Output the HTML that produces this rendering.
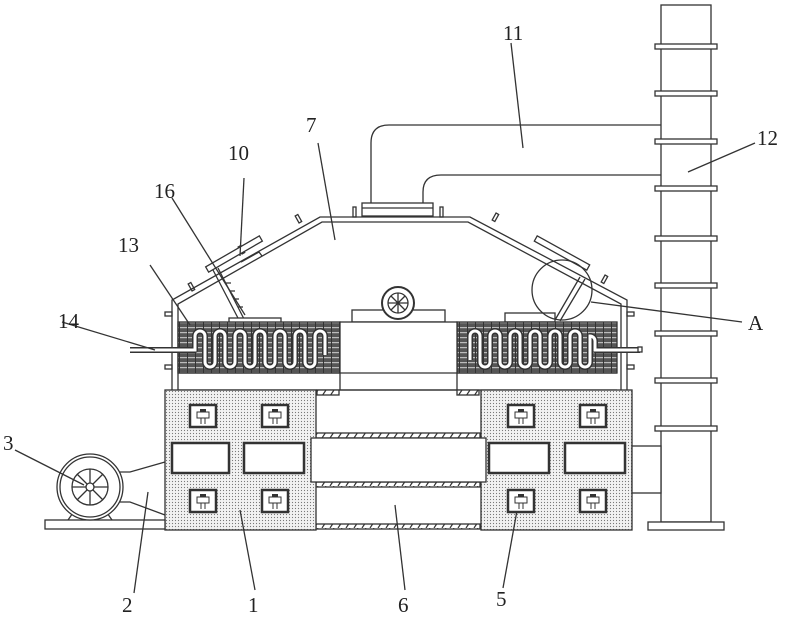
<!DOCTYPE html>
<html><head><meta charset="utf-8"><style>
html,body{margin:0;padding:0;background:#fff;width:800px;height:620px;overflow:hidden}
svg{display:block}
text{font-family:"Liberation Serif",serif;font-size:21px;fill:#222}
</style></head><body>
<svg width="800" height="620" viewBox="0 0 800 620" xmlns="http://www.w3.org/2000/svg">
<defs>
<pattern id="dots" width="3" height="3" patternUnits="userSpaceOnUse"><rect width="3" height="3" fill="#f2f2f2"/><circle cx="1.5" cy="1.5" r="0.6" fill="#777"/></pattern>
<pattern id="mesh" width="8" height="5" patternUnits="userSpaceOnUse"><rect width="8" height="5" fill="#555"/><rect x="0" y="2" width="8" height="1.2" fill="#bbb"/><rect x="3" y="0" width="1" height="5" fill="#333"/></pattern>
<pattern id="hatch" width="8" height="6" patternUnits="userSpaceOnUse"><rect width="8" height="6" fill="#fff"/><line x1="2" y1="6" x2="6" y2="0" stroke="#333" stroke-width="1.2"/></pattern>
<g id="valve"><rect x="0" y="0" width="26" height="22" fill="#fff" stroke="#333" stroke-width="2.5"/><rect x="7" y="7" width="12" height="6" fill="#fff" stroke="#333"/><rect x="10" y="4" width="6" height="3" fill="#333"/><line x1="11" y1="13" x2="11" y2="19" stroke="#333"/><line x1="15" y1="13" x2="15" y2="19" stroke="#333"/></g>
</defs>
<g fill="none" stroke="#333" stroke-width="1.3">
<!-- chimney -->
<rect x="661" y="5" width="50" height="517" fill="#fff"/>
<rect x="648" y="522" width="76" height="8" fill="#fff"/>
<g fill="#fff">
<rect x="655" y="44" width="62" height="5"/><rect x="655" y="91" width="62" height="5"/><rect x="655" y="139" width="62" height="5"/><rect x="655" y="186" width="62" height="5"/><rect x="655" y="236" width="62" height="5"/><rect x="655" y="283" width="62" height="5"/><rect x="655" y="331" width="62" height="5"/><rect x="655" y="378" width="62" height="5"/><rect x="655" y="426" width="62" height="5"/>
</g>
<!-- duct 11 -->
<path d="M371 203 V143 Q371 125 389 125 H661"/>
<path d="M423 203 V192 Q423 175 441 175 H661"/>
<rect x="362" y="203" width="71" height="13" fill="#fff"/>
<line x1="362" y1="208" x2="433" y2="208"/>
<rect x="353" y="207" width="3" height="10"/><rect x="440" y="207" width="3" height="10"/>
<!-- roof -->
<path d="M172 390 V300 L320 217 H470 L627 300 V390"/>
<path d="M178 390 V304 L322 222 H468 L621 304 V390"/>
<rect x="297" y="215" width="3" height="8" transform="rotate(-29 298 219)"/>
<rect x="240" y="246" width="3" height="8" transform="rotate(-29 241 250)"/>
<rect x="190" y="283" width="3" height="8" transform="rotate(-29 191 287)"/>
<rect x="494" y="213" width="3" height="8" transform="rotate(29 495 217)"/>
<rect x="603" y="275" width="3" height="8" transform="rotate(29 604 279)"/>
<!-- hatch 10 left -->
<rect x="203" y="251" width="62" height="6" fill="#fff" transform="rotate(-30 234 254)"/>
<path d="M241 262 L259 252 L262 256"/>
<line x1="213" y1="270" x2="239" y2="320"/><line x1="218" y1="268" x2="244" y2="319"/>
<path d="M226 283h5M230 291h5M234 299h5M238 307h5"/>
<rect x="229" y="318" width="52" height="5" fill="#fff"/>
<!-- right hatch -->
<rect x="532" y="250" width="60" height="6" fill="#fff" transform="rotate(29 562 253)"/>
<line x1="580" y1="277" x2="555" y2="320"/><line x1="585" y1="279" x2="560" y2="321"/>
<rect x="505" y="313" width="50" height="9" fill="#fff"/>
<circle cx="562" cy="290" r="30"/>
<line x1="591" y1="302" x2="742" y2="322"/>
<!-- top fan -->
<rect x="352" y="310" width="93" height="12" fill="#fff"/>
<circle cx="398" cy="303" r="16" fill="#fff" stroke-width="2"/>
<circle cx="398" cy="303" r="10"/>
<path d="M388 303H408M398 293V313M391 296L405 310M405 296L391 310"/>
<!-- packs -->
<rect x="178" y="322" width="162" height="51" fill="url(#mesh)"/>
<rect x="457" y="322" width="160" height="51" fill="url(#mesh)"/>
<rect x="340" y="322" width="117" height="68" fill="#fff"/>
<line x1="178" y1="373" x2="617" y2="373"/>
<line x1="178" y1="390" x2="617" y2="390"/>
<g stroke="#333" stroke-width="6" stroke-linejoin="round">
<path id="s1" d="M130 350 H195 V336 A5 5 0 0 1 205 336 V362 A5 5 0 0 0 215 362 V336 A5 5 0 0 1 225 336 V362 A5 5 0 0 0 235 362 V336 A5 5 0 0 1 245 336 V362 A5 5 0 0 0 255 362 V336 A5 5 0 0 1 265 336 V362 A5 5 0 0 0 275 362 V336 A5 5 0 0 1 285 336 V362 A5 5 0 0 0 295 362 V336 A5 5 0 0 1 305 336 V362 A5 5 0 0 0 315 362 V336 A5 5 0 0 1 325 336 V355"/>
<path id="s2" d="M470 360 V336 A5 5 0 0 1 480 336 V362 A5 5 0 0 0 490 362 V336 A5 5 0 0 1 500 336 V362 A5 5 0 0 0 510 362 V336 A5 5 0 0 1 520 336 V362 A5 5 0 0 0 530 362 V336 A5 5 0 0 1 540 336 V362 A5 5 0 0 0 550 362 V336 A5 5 0 0 1 560 336 V362 A5 5 0 0 0 570 362 V336 A5 5 0 0 1 580 336 V362 A5 5 0 0 0 590 362 V336 A5 5 0 0 1 595 341 V350 H640"/>
</g>
<g stroke="#fff" stroke-width="3"><use href="#s1"/><use href="#s2"/></g>
<rect x="638" y="347" width="4" height="5" fill="#fff"/>
<rect x="165" y="312" width="7" height="4"/><rect x="165" y="365" width="7" height="4"/>
<rect x="627" y="312" width="7" height="4"/><rect x="627" y="365" width="7" height="4"/>
<!-- center lower -->
<rect x="317" y="390" width="22" height="5" fill="url(#hatch)"/>
<rect x="457" y="390" width="22" height="5" fill="url(#hatch)"/>
<rect x="316" y="433" width="164" height="5" fill="url(#hatch)"/>
<rect x="316" y="482" width="164" height="5" fill="url(#hatch)"/>
<rect x="316" y="524" width="164" height="5" fill="url(#hatch)"/>
<!-- blocks -->
<rect x="165" y="390" width="151" height="140" fill="url(#dots)"/>
<rect x="481" y="390" width="151" height="140" fill="url(#dots)"/>
<rect x="311" y="438" width="175" height="44" fill="#fff"/>
<g fill="#fff" stroke-width="2.5">
<rect x="172" y="443" width="57" height="30"/><rect x="244" y="443" width="60" height="30"/>
<rect x="489" y="443" width="60" height="30"/><rect x="565" y="443" width="60" height="30"/>
</g>
<rect x="632" y="446" width="29" height="47" fill="#fff"/>
<!-- fan 3 -->
<rect x="45" y="520" width="120" height="9" fill="#fff"/>
<path d="M68 520 L75 510 M112 520 L105 510"/>
<path d="M120 472 H130 L165 462 M120 502 H130 L165 515"/>
<circle cx="90" cy="487" r="33" fill="#fff"/>
<circle cx="90" cy="487" r="30"/>
<circle cx="90" cy="487" r="18"/>
<circle cx="90" cy="487" r="4"/>
<path d="M90 469V483M90 491V505M72 487H86M94 487H108M77 474L87 484M93 490L103 500M103 474L93 484M87 490L77 500"/>
<!-- leaders -->
<line x1="15" y1="450" x2="84" y2="485"/>
<line x1="134" y1="593" x2="148" y2="492"/>
<line x1="255" y1="590" x2="240" y2="510"/>
<line x1="405" y1="590" x2="395" y2="505"/>
<line x1="503" y1="588" x2="518" y2="505"/>
<line x1="62" y1="322" x2="155" y2="350"/>
<line x1="150" y1="265" x2="190" y2="325"/>
<line x1="172" y1="198" x2="245" y2="315"/>
<line x1="244" y1="178" x2="240" y2="256"/>
<line x1="318" y1="143" x2="335" y2="240"/>
<line x1="511" y1="43" x2="523" y2="148"/>
<line x1="755" y1="143" x2="688" y2="172"/>
</g>
<g fill="#222">
<use href="#valve" x="190" y="405"/><use href="#valve" x="262" y="405"/>
<use href="#valve" x="190" y="490"/><use href="#valve" x="262" y="490"/>
<use href="#valve" x="508" y="405"/><use href="#valve" x="580" y="405"/>
<use href="#valve" x="508" y="490"/><use href="#valve" x="580" y="490"/>
</g>
<text x="3" y="450">3</text>
<text x="122" y="612">2</text>
<text x="248" y="612">1</text>
<text x="398" y="612">6</text>
<text x="496" y="606">5</text>
<text x="58" y="328">14</text>
<text x="118" y="252">13</text>
<text x="154" y="198">16</text>
<text x="228" y="160">10</text>
<text x="306" y="132">7</text>
<text x="503" y="40">11</text>
<text x="757" y="145">12</text>
<text x="748" y="330">A</text>
</svg>
</body></html>
